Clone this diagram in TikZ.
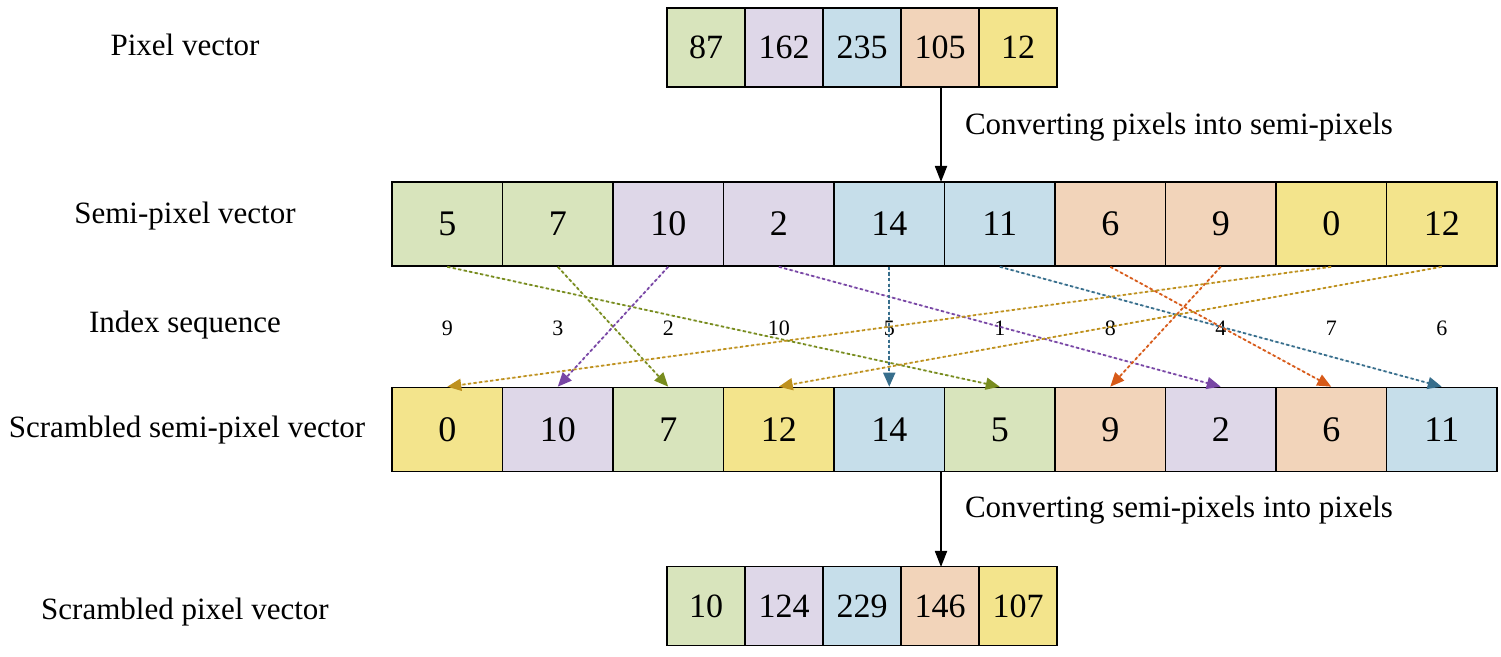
\documentclass[tikz,border=0pt]{standalone}
\usepackage{fontspec}
\setmainfont{Liberation Serif}
\usetikzlibrary{arrows.meta}
\definecolor{cg}{RGB}{216,228,188}
\definecolor{cp}{RGB}{222,215,232}
\definecolor{cb}{RGB}{198,222,234}
\definecolor{co}{RGB}{242,212,186}
\definecolor{cy}{RGB}{243,228,140}
\definecolor{ag}{RGB}{120,140,30}
\definecolor{ay}{RGB}{190,145,30}
\definecolor{ap}{RGB}{120,70,165}
\definecolor{ab}{RGB}{55,110,140}
\definecolor{ao}{RGB}{215,90,25}
\begin{document}
\begin{tikzpicture}[x=0.5pt,y=-0.5pt,
 big/.style={draw,line width=0.8pt,minimum width=39pt,minimum height=39.5pt,inner sep=0pt,font=\fontsize{17}{17}\selectfont},
 sm/.style={draw,line width=0.8pt,minimum width=55.25pt,minimum height=42pt,inner sep=0pt,font=\fontsize{18}{18}\selectfont},
 lab/.style={font=\fontsize{15.5}{15.5}\selectfont},
 idx/.style={font=\fontsize{11}{11}\selectfont},
 sa/.style={dash pattern=on 1.6pt off 1.2pt,line width=0.9pt,-{Triangle[length=7pt,width=6pt]}},
 main/.style={line width=0.9pt,-{Triangle[length=8pt,width=6pt]}}]
\useasboundingbox (0,0) rectangle (1501,657);
\foreach \v/\c [count=\i] in {87/cg,162/cp,235/cb,105/co,12/cy}
  \node[big,fill=\c] (p\i) at ({667+78*(\i-0.5)},47.5) {\v};
\foreach \v/\c [count=\i] in {10/cg,124/cp,229/cb,146/co,107/cy}
  \node[big,fill=\c] (q\i) at ({667+78*(\i-0.5)},606) {\v};
\foreach \v/\c [count=\i] in {5/cg,7/cg,10/cp,2/cp,14/cb,11/cb,6/co,9/co,0/cy,12/cy}
  \node[sm,fill=\c] (s\i) at ({392+110.5*(\i-0.5)},224) {\v};
\foreach \v/\c [count=\i] in {0/cy,10/cp,7/cg,12/cy,14/cb,5/cg,9/co,2/cp,6/co,11/cb}
  \node[sm,fill=\c] (t\i) at ({392+110.5*(\i-0.5)},429.5) {\v};
\foreach \v [count=\i] in {9,3,2,10,5,1,8,4,7,6}
  \node[idx] (n\i) at ({392+110.5*(\i-0.5)},328) {\v};
\node[lab] (l1) at (185,45) {Pixel vector};
\node[lab] (l2) at (185,216) {Semi-pixel vector};
\node[lab] (l3) at (185,325) {Index sequence};
\node[lab] (l4) at (187,430) {Scrambled semi-pixel vector};
\node[lab] (l5) at (185,612) {Scrambled pixel vector};
\coordinate (a1) at (941,87); \coordinate (a2) at (941,182);
\coordinate (b1) at (941,472); \coordinate (b2) at (941,567);
\draw[main] (a1) -- (a2);
\draw[main] (b1) -- (b2);
\node[lab,anchor=west] (c1) at (958,127) {Converting pixels into semi-pixels};
\node[lab,anchor=west] (c2) at (958,510) {Converting semi-pixels into pixels};
\foreach \s/\d/\c in {1/6/ag,2/3/ag,3/2/ap,4/8/ap,5/5/ab,6/10/ab,7/9/ao,8/7/ao,9/1/ay,10/4/ay}
  \draw[sa,draw=\c,fill=\c] (s\s.south) -- (t\d.north);
\end{tikzpicture}
\end{document}
